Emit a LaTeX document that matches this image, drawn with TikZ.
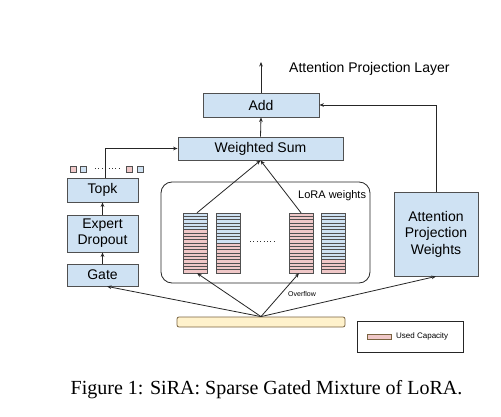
\documentclass[tikz,border=0pt]{standalone}
\usepackage{fontspec}
\setmainfont{Liberation Sans}
\newfontfamily\capfont{Liberation Serif}
\usetikzlibrary{arrows.meta,calc}
\definecolor{boxblue}{HTML}{CFE2F3}
\definecolor{boxpink}{HTML}{F0C8C8}
\definecolor{baryellow}{HTML}{FFF2CC}
\definecolor{edgegray}{HTML}{505050}
\definecolor{barbrown}{HTML}{7A6440}
\newcommand\lorastack[3]{%
  \node[minimum width=24pt,minimum height=60pt,inner sep=0pt] (#1) at (#2,243) {};
  \foreach \i in {0,...,17}{%
    \ifnum\i<#3 \def\stripecol{boxblue}\else\def\stripecol{boxpink}\fi
    \filldraw[fill=\stripecol,draw=edgegray,line width=0.5pt] ($(#1.north west)+(0,\i*3.3333)$) rectangle ++(24,3.3333);
  }
}
\begin{document}
\begin{tikzpicture}[x=1pt,y=-1pt,
  bluebox/.style={draw=edgegray,fill=boxblue,line width=0.8pt,inner sep=0pt,align=center,font=\fontsize{14}{16}\selectfont},
  conn/.style={line width=0.8pt,draw=black!85,-{Stealth[length=4.5pt,width=3.6pt]}},
  lbl/.style={inner sep=0pt,anchor=west},
  sq/.style={draw=edgegray,line width=0.5pt,minimum size=6pt,inner sep=0pt}]
\useasboundingbox[fill=white] (0,0) rectangle (501,417);

% main boxes
\node[bluebox,minimum width=116pt,minimum height=24pt] (add) at (261,105) {Add};
\node[bluebox,minimum width=165pt,minimum height=23pt] (ws) at (260.5,148.5) {Weighted Sum};
\node[bluebox,minimum width=71pt,minimum height=24pt] (topk) at (102.5,190) {Topk};
\node[bluebox,minimum width=71pt,minimum height=37pt] (drop) at (102.5,233.5) {Expert\\Dropout};
\node[bluebox,minimum width=71pt,minimum height=22pt] (gate) at (102.5,275) {Gate};
\node[bluebox,minimum width=84pt,minimum height=84pt,font=\fontsize{14}{16.5}\selectfont] (apw) at (436,234) {Attention\\Projection\\Weights};

% LoRA container
\node[draw=black!85,line width=0.8pt,rounded corners=11pt,minimum width=209pt,minimum height=101pt,inner sep=0pt] (lora) at (265.5,232.5) {};
\node[lbl,font=\fontsize{11}{13}\selectfont] (loralbl) at (298,196) {LoRA weights};

% stacks
\lorastack{s1}{195}{5}
\lorastack{s2}{228}{9}
\lorastack{s3}{301}{0}
\lorastack{s4}{333.5}{14}
\draw[line width=1pt,dash pattern=on 1pt off 2.4pt,black!80] (250,241) -- (276,241);

% input bar
\node[draw=barbrown,fill=baryellow,line width=0.8pt,rounded corners=2pt,minimum width=168pt,minimum height=10pt,inner sep=0pt] (bar) at (261,322) {};

% gate output squares
\node[sq,fill=boxpink] (q1) at (73,169) {};
\node[sq,fill=boxblue] (q2) at (83,169) {};
\node[sq,fill=boxpink] (q3) at (129,169) {};
\node[sq,fill=boxblue] (q4) at (140,169) {};
\draw[line width=1pt,dash pattern=on 1pt off 2.4pt,black!80] (95,169) -- (121,169);

% labels
\coordinate (outtop) at (261,62);
\node[lbl,font=\fontsize{14}{16}\selectfont] (title) at (289,69) {Attention Projection Layer};
\node[lbl,font=\fontsize{7}{8}\selectfont] (ovf) at (288,294) {Overflow};

% legend
\node[draw=black!85,line width=0.8pt,minimum width=106pt,minimum height=31pt,inner sep=0pt] (legend) at (410,336.5) {};
\node[draw=barbrown,fill=boxpink,line width=0.8pt,minimum width=24pt,minimum height=5pt,inner sep=0pt] (swatch) at (379,337) {};
\node[lbl,font=\fontsize{8}{9}\selectfont] (leglbl) at (396,336) {Used Capacity};

% connectors
\draw[conn] (add.north) -- (outtop);
\draw[conn] (ws.north) -- (add.south);
\draw[conn] (apw.north) |- (add.east);
\draw[conn] ([xshift=2.5pt]topk.north) |- (ws.west);
\draw[conn] (drop.north) -- (topk.south);
\draw[conn] (gate.north) -- (drop.south);
\draw[conn] ([xshift=2pt]s1.north) -- (ws.south);
\draw[conn] (s3.north) -- (ws.south);
\draw[conn] (bar.north) -- ([xshift=4.5pt]gate.south);
\draw[conn] (bar.north) -- ([xshift=2pt]s1.south);
\draw[conn] (bar.north) -- ([xshift=-2pt]s3.south);
\draw[conn] (bar.north) -- (apw.south);

% caption
\node[font=\capfont\fontsize{20}{24}\selectfont,inner sep=0pt] (caption) at (266.5,390) {Figure 1: SiRA: Sparse Gated Mixture of LoRA.};
\end{tikzpicture}
\end{document}
